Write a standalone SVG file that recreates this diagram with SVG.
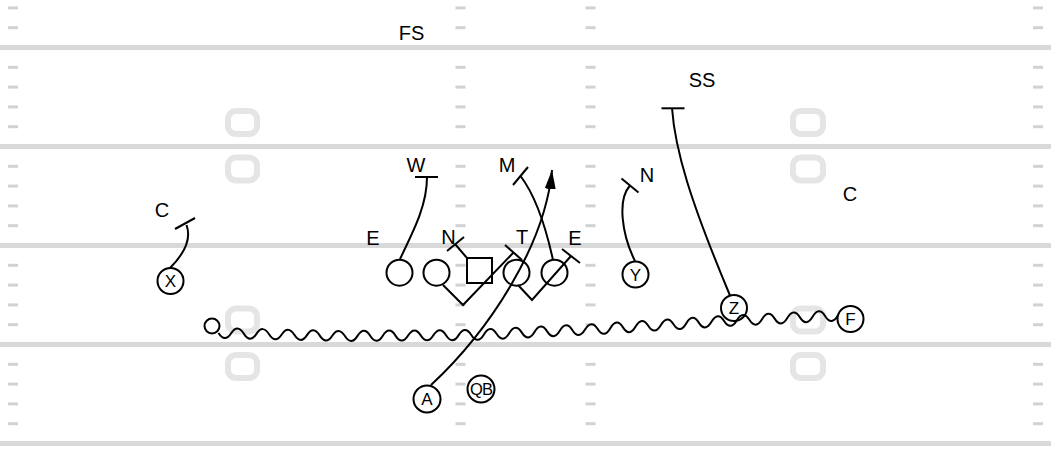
<svg xmlns="http://www.w3.org/2000/svg" xmlns:xlink="http://www.w3.org/1999/xlink" width="1051" height="454" viewBox="0 0 1051 454">
  <style>
    .yard { stroke: #d9d9d9; stroke-width: 5; }
    .hash { fill: #d2d2d2; }
    .num { fill: none; stroke: #e5e5e5; stroke-width: 6; }
    .pl { fill: none; stroke: #000; stroke-width: 2; }
    .rt { fill: none; stroke: #000; stroke-width: 2; stroke-linejoin: miter; }
    .lbl { font-family: "Liberation Sans", Arial, sans-serif; font-size: 20px; fill: #000; text-anchor: middle; }
    .in { font-family: "Liberation Sans", Arial, sans-serif; font-size: 17px; fill: #000; text-anchor: middle; }
  </style>
  <defs>
    <marker id="ah" markerUnits="userSpaceOnUse" markerWidth="20" markerHeight="12" refX="19" refY="5.5" orient="auto">
      <path d="M0,0 L19,5.5 L0,11 z" fill="#000"/>
    </marker>
    <g id="hashcol">
      <rect class="hash" x="0" y="6.4" width="10" height="3"/>
      <rect class="hash" x="0" y="26.2" width="10" height="3"/>
      <rect class="hash" x="0" y="65.8" width="10" height="3"/>
      <rect class="hash" x="0" y="85.6" width="10" height="3"/>
      <rect class="hash" x="0" y="105.4" width="10" height="3"/>
      <rect class="hash" x="0" y="125.2" width="10" height="3"/>
      <rect class="hash" x="0" y="164.8" width="10" height="3"/>
      <rect class="hash" x="0" y="184.6" width="10" height="3"/>
      <rect class="hash" x="0" y="204.4" width="10" height="3"/>
      <rect class="hash" x="0" y="224.2" width="10" height="3"/>
      <rect class="hash" x="0" y="263.8" width="10" height="3"/>
      <rect class="hash" x="0" y="283.6" width="10" height="3"/>
      <rect class="hash" x="0" y="303.4" width="10" height="3"/>
      <rect class="hash" x="0" y="323.2" width="10" height="3"/>
      <rect class="hash" x="0" y="362.8" width="10" height="3"/>
      <rect class="hash" x="0" y="382.6" width="10" height="3"/>
      <rect class="hash" x="0" y="402.4" width="10" height="3"/>
      <rect class="hash" x="0" y="422.2" width="10" height="3"/>
    </g>
  </defs>
  <rect width="1051" height="454" fill="#fff"/>

  <g id="field">
    <line class="yard" x1="0" y1="47.5" x2="1051" y2="47.5"/>
    <line class="yard" x1="0" y1="146.5" x2="1051" y2="146.5"/>
    <line class="yard" x1="0" y1="245.5" x2="1051" y2="245.5"/>
    <line class="yard" x1="0" y1="344.5" x2="1051" y2="344.5"/>
    <line class="yard" x1="0" y1="443.5" x2="1051" y2="443.5"/>
    <use xlink:href="#hashcol" x="8"/>
    <use xlink:href="#hashcol" x="455.5"/>
    <use xlink:href="#hashcol" x="585.5"/>
    <use xlink:href="#hashcol" x="1033"/>
    <rect class="num" x="228" y="111" width="29" height="23" rx="8"/>
    <rect class="num" x="228" y="157.5" width="29" height="23" rx="8"/>
    <rect class="num" x="228" y="308.5" width="29" height="23" rx="8"/>
    <rect class="num" x="228" y="355" width="29" height="23" rx="8"/>
    <rect class="num" x="793" y="111" width="30" height="23" rx="8"/>
    <rect class="num" x="793" y="157.5" width="30" height="23" rx="8"/>
    <rect class="num" x="793" y="308.5" width="30" height="23" rx="8"/>
    <rect class="num" x="793" y="355" width="30" height="23" rx="8"/>
  </g>

  <g id="defense">
    <g id="d-fs"><text class="lbl" x="411.5" y="40">FS</text></g>
    <g id="d-ss"><text class="lbl" x="702" y="87">SS</text></g>
    <g id="d-w"><text class="lbl" x="416" y="172">W</text></g>
    <g id="d-m"><text class="lbl" x="507" y="172">M</text></g>
    <g id="d-n2"><text class="lbl" x="647" y="182">N</text></g>
    <g id="d-c1"><text class="lbl" x="162" y="217">C</text></g>
    <g id="d-c2"><text class="lbl" x="850" y="201">C</text></g>
    <g id="d-e1"><text class="lbl" x="373" y="245">E</text></g>
    <g id="d-n1"><text class="lbl" x="448.5" y="244">N</text></g>
    <g id="d-t"><text class="lbl" x="522" y="244">T</text></g>
    <g id="d-e2"><text class="lbl" x="575" y="245">E</text></g>
  </g>

  <g id="offense">
    <g id="o-le"><circle class="pl" cx="399.5" cy="272.7" r="13"/></g>
    <g id="o-lg"><circle class="pl" cx="436.5" cy="272.7" r="13"/></g>
    <g id="o-c"><rect class="pl" x="467" y="258" width="25" height="25"/></g>
    <g id="o-rg"><circle class="pl" cx="516.5" cy="272.7" r="13"/></g>
    <g id="o-rt"><circle class="pl" cx="554.5" cy="272.7" r="13"/></g>
    <g id="o-y"><circle class="pl" cx="635.5" cy="274.5" r="13"/><text class="in" x="635.5" y="280.5">Y</text></g>
    <g id="o-x"><circle class="pl" cx="170.5" cy="281" r="13"/><text class="in" x="170.5" y="287">X</text></g>
    <g id="o-z"><circle class="pl" cx="734" cy="308" r="13"/><text class="in" x="734" y="314">Z</text></g>
    <g id="o-f"><circle class="pl" cx="850.5" cy="319" r="13"/><text class="in" x="850.5" y="325">F</text></g>
    <g id="o-a"><circle class="pl" cx="427" cy="399" r="13.5"/><text class="in" x="427" y="405">A</text></g>
    <g id="o-qb"><circle class="pl" cx="481" cy="389" r="13.5"/><text class="in" x="481" y="395" style="font-size:16.5px;letter-spacing:-0.8px">QB</text></g>
    <g id="o-m"><circle class="pl" cx="212" cy="326" r="7.5"/></g>
  </g>

  <g id="connectors">
    <!-- W read -->
    <path class="rt" d="M400 259 C414 230 427 205 427 177"/>
    <line class="rt" x1="415" y1="177" x2="438" y2="177"/>
    <!-- M read -->
    <path class="rt" d="M553 260 C546 228 535 195 520.5 176"/>
    <line class="rt" x1="513" y1="185" x2="528" y2="167"/>
    <!-- N right -->
    <path class="rt" d="M635 261 C622 235 617 200 630 185.5"/>
    <line class="rt" x1="621.5" y1="178.5" x2="638.5" y2="192.5"/>
    <!-- C left -->
    <path class="rt" d="M170 268 C182 256 192 240 186.5 225"/>
    <line class="rt" x1="175" y1="229" x2="195" y2="218"/>
    <!-- SS -->
    <path class="rt" d="M672 108 C675 150 690 200 730 295.5"/>
    <line class="rt" x1="661.5" y1="108.3" x2="684.5" y2="108.3"/>
    <!-- center block on N -->
    <line class="rt" x1="467" y1="258" x2="455" y2="244"/>
    <line class="rt" x1="447" y1="251" x2="464" y2="237"/>
    <!-- guard pull block on T -->
    <polyline class="rt" points="443,285 463,305 513.5,252.5"/>
    <line class="rt" x1="505" y1="245" x2="522" y2="260"/>
    <!-- tackle block on E -->
    <polyline class="rt" points="518,285 532,300 571,256"/>
    <line class="rt" x1="562" y1="249" x2="580" y2="263"/>
    <!-- A route -->
    <path class="rt" d="M431 385 C490 330 545 245 552 170" marker-end="url(#ah)"/>
    <!-- motion -->
    <path class="rt" stroke-width="2.2" stroke-linejoin="round" d="M218.5 333 q6.32 10 12.64 0.3 t12.64 0.3 t12.64 0.3 t12.64 0.3 t12.64 0.3 t12.64 0.3 t12.64 0.3 t12.64 0.3 t12.64 0.3 t12.64 0.3 t12.64 -0.1 t12.64 -0.1 t12.64 -0.1 t12.64 -0.1 t12.64 -0.1 t12.64 -0.1 t12.64 -0.1 t12.64 -0.1 t12.64 -0.1 t12.64 -0.1 t12.64 -0.6 t12.64 -0.6 t12.64 -0.6 t12.64 -0.6 t12.64 -0.6 t12.64 -0.6 t12.64 -0.6 t12.64 -0.6 t12.64 -0.6 t12.64 -0.6 t12.64 -0.8 t12.64 -0.8 t12.64 -0.8 t12.64 -0.8 t12.64 -0.8 t12.64 -0.8 t12.64 -0.8 t12.64 -0.8 t12.64 -0.8 t12.64 -0.8 t12.64 -0.6 t12.64 -0.6 t12.64 -0.6 t12.64 -0.6 t12.64 -0.6 t12.64 -0.6 t12.64 -0.6 t12.64 -0.6 t12.64 -0.6"/>
  </g>
</svg>
